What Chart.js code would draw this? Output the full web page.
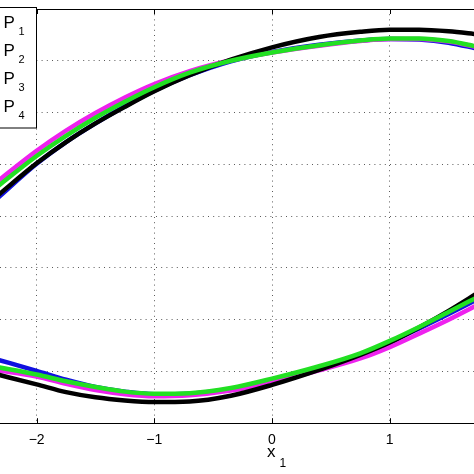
<!DOCTYPE html>
<html>
<head>
<meta charset="utf-8">
<script src="https://cdn.jsdelivr.net/npm/chart.js@4/dist/chart.umd.min.js"></script>
<style>
  html, body { margin: 0; padding: 0; background: #fff; overflow: hidden; }
  #wrap { position: relative; width: 474px; height: 474px; }
</style>
</head>
<body>
<div id="wrap"><canvas id="mycanvas" width="474" height="474"></canvas></div>
<script>
// x1 sample points (shared by every curve)
var x1 = [-2.35, -2.0, -1.75, -1.5, -1.25, -1.0, -0.7, -0.35, 0, 0.4, 0.75, 1.0, 1.25, 1.5, 1.75];

// x2 values, upper and lower branch of each trajectory
var p1Upper = [0.36, 1.02, 1.43, 1.79, 2.11, 2.41, 2.72, 3.02, 3.26, 3.46, 3.56, 3.60, 3.60, 3.57, 3.51];
var p1Lower = [-3.05, -3.25, -3.40, -3.50, -3.56, -3.59, -3.58, -3.47, -3.26, -2.97, -2.68, -2.44, -2.15, -1.83, -1.48];
var p2Upper = [0.31, 1.01, 1.43, 1.79, 2.12, 2.42, 2.72, 2.99, 3.17, 3.31, 3.39, 3.42, 3.41, 3.35, 3.23];
var p2Lower = [-2.76, -2.99, -3.16, -3.30, -3.39, -3.44, -3.43, -3.34, -3.17, -2.93, -2.68, -2.44, -2.17, -1.89, -1.60];
var p3Upper = [0.64, 1.26, 1.65, 1.99, 2.29, 2.55, 2.80, 3.01, 3.16, 3.29, 3.38, 3.42, 3.42, 3.37, 3.26];
var p3Lower = [-2.97, -3.10, -3.24, -3.36, -3.44, -3.48, -3.46, -3.37, -3.21, -2.98, -2.75, -2.53, -2.27, -2.00, -1.71];
var p4Upper = [0.54, 1.16, 1.55, 1.90, 2.21, 2.49, 2.77, 3.00, 3.16, 3.30, 3.39, 3.43, 3.43, 3.38, 3.27];
var p4Lower = [-2.91, -3.06, -3.19, -3.30, -3.39, -3.43, -3.42, -3.32, -3.14, -2.90, -2.65, -2.41, -2.14, -1.85, -1.56];

var xTicks = [-2, -1, 0, 1];
var yGrid = [-4, -3, -2, -1, 0, 1, 2, 3, 4];
var legendNames = ['1', '2', '3', '4']; // P with subscript
var xTitle = ['x', '1'];

var series = [
  { name: 'P1', color: '#000000', order: 1, upper: p1Upper, lower: p1Lower },
  { name: 'P2', color: '#1010e0', order: 3, upper: p2Upper, lower: p2Lower },
  { name: 'P3', color: '#ee22ee', order: 2, upper: p3Upper, lower: p3Lower },
  { name: 'P4', color: '#22e022', order: 0, upper: p4Upper, lower: p4Lower }
];

function pts(ys) {
  return x1.map(function (x, i) { return { x: x, y: ys[i] }; });
}

var datasets = [];
series.forEach(function (s) {
  [s.upper, s.lower].forEach(function (ys) {
    datasets.push({
      label: s.name,
      data: pts(ys),
      borderColor: s.color,
      backgroundColor: s.color,
      borderWidth: 4.5,
      pointRadius: 0,
      cubicInterpolationMode: 'monotone',
      fill: false,
      order: s.order
    });
  });
});

Chart.defaults.font.family = "'Liberation Sans', Arial, sans-serif";
Chart.defaults.color = '#000';

// legend with subscripts, x1 title and the inner tick marks
var extras = {
  id: 'extras',
  afterDraw: function (chart) {
    var ctx = chart.ctx;
    var xs = chart.scales.x, area = chart.chartArea;
    ctx.save();
    // inner ticks
    ctx.strokeStyle = '#000';
    ctx.lineWidth = 1;
    xTicks.forEach(function (v) {
      var px = Math.round(xs.getPixelForValue(v)) + 0.5;
      ctx.beginPath();
      ctx.moveTo(px, area.bottom); ctx.lineTo(px, area.bottom - 5);
      ctx.moveTo(px, area.top); ctx.lineTo(px, area.top + 5);
      ctx.stroke();
    });
    // legend box
    ctx.fillStyle = '#fff';
    ctx.fillRect(-2, 7.5, 38.5, 120.5);
    ctx.strokeRect(-2, 7.5, 38.5, 120.5);
    ctx.fillStyle = '#000';
    ctx.textBaseline = 'alphabetic';
    legendNames.forEach(function (n, i) {
      var base = 28 + i * 28;
      ctx.font = "17px 'Liberation Sans', Arial, sans-serif";
      ctx.fillText('P', 3.5, base);
      ctx.font = "11px 'Liberation Sans', Arial, sans-serif";
      ctx.fillText(n, 18.5, base + 7);
    });
    // axis title
    var cx = xs.getPixelForValue(0);
    ctx.font = "17px 'Liberation Sans', Arial, sans-serif";
    ctx.fillText(xTitle[0], cx - 5, 457);
    ctx.font = "12px 'Liberation Sans', Arial, sans-serif";
    ctx.fillText(xTitle[1], cx + 7.5, 467);
    ctx.restore();
  }
};

var chart = new Chart(document.getElementById('mycanvas'), {
  type: 'line',
  data: { datasets: datasets },
  plugins: [extras],
  options: {
    responsive: false,
    animation: false,
    layout: { padding: { top: 9, left: 0, right: 0, bottom: 16 } },
    plugins: { legend: { display: false }, tooltip: { enabled: false } },
    scales: {
      x: {
        type: 'linear',
        min: -2.311,
        max: 1.716,
        afterBuildTicks: function (scale) {
          scale.ticks = xTicks.map(function (v) { return { value: v }; });
        },
        ticks: {
          padding: 9,
          font: { size: 14 },
          color: '#000',
          callback: function (v) { return v < 0 ? '\u2212' + Math.abs(v) : String(v); }
        },
        grid: { drawTicks: false, color: 'rgba(0,0,0,0.65)', lineWidth: 1 },
        border: { display: true, color: '#000', width: 1, dash: [1, 4.2] }
      },
      y: {
        type: 'linear',
        min: -4,
        max: 4,
        afterBuildTicks: function (scale) {
          scale.ticks = yGrid.map(function (v) { return { value: v }; });
        },
        ticks: { display: false },
        grid: {
          drawTicks: false,
          lineWidth: 1,
          color: function (c) {
            if (c.tick && c.tick.value === 4) return '#000';
            if (c.tick && c.tick.value === -4) return 'rgba(0,0,0,0)';
            return 'rgba(0,0,0,0.65)';
          }
        },
        border: {
          display: false,
          dash: function (c) {
            if (c.tick && (c.tick.value === 4 || c.tick.value === -4)) return [];
            return [1, 4.2];
          }
        }
      }
    }
  }
});
</script>
</body>
</html>
